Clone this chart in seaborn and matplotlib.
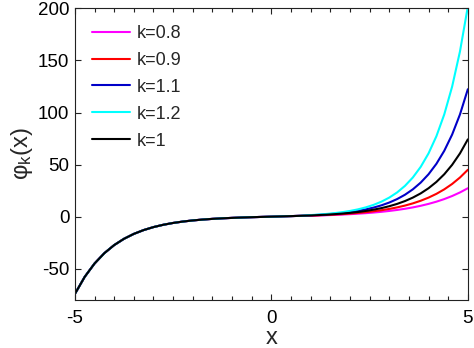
import matplotlib
matplotlib.use("Agg")
import matplotlib.pyplot as plt
import seaborn as sns
import pandas as pd
import numpy as np
from matplotlib.ticker import MultipleLocator

sns.set_style("ticks")
plt.rcParams['font.family'] = ['Liberation Sans', 'DejaVu Sans']
plt.rcParams['mathtext.default'] = 'regular'
plt.rcParams['axes.unicode_minus'] = False

# shared part of all curves (x from -5 to 0.75, step 0.25)
x_left = [-5.0, -4.75, -4.5, -4.25, -4.0, -3.75, -3.5, -3.25, -3.0, -2.75, -2.5, -2.25,
          -2.0, -1.75, -1.5, -1.25, -1.0, -0.75, -0.5, -0.25, 0.0, 0.25, 0.5, 0.75]
phi_left = [-74.20, -57.79, -45.00, -35.05, -27.29, -21.25, -16.54, -12.88, -10.02, -7.79,
            -6.05, -4.69, -3.63, -2.79, -2.13, -1.60, -1.18, -0.82, -0.52, -0.25, 0.0,
            0.25, 0.52, 0.82]

# right part (x from 1 to 5, step 0.2)
x_right = [1.0, 1.2, 1.4, 1.6, 1.8, 2.0, 2.2, 2.4, 2.6, 2.8, 3.0, 3.2, 3.4, 3.6, 3.8,
           4.0, 4.2, 4.4, 4.6, 4.8, 5.0]
phi_k08 = [0.89, 1.11, 1.37, 1.66, 1.99, 2.38, 2.82, 3.34, 3.94, 4.64, 5.47, 6.43, 7.56,
           8.88, 10.43, 12.25, 14.38, 16.88, 19.81, 23.25, 27.29]
phi_k09 = [1.03, 1.30, 1.62, 1.99, 2.43, 2.94, 3.55, 4.28, 5.14, 6.17, 7.41, 8.88, 10.64,
           12.75, 15.27, 18.29, 21.90, 26.22, 31.39, 37.59, 45.00]
phi_k10 = [1.18, 1.51, 1.90, 2.38, 2.94, 3.63, 4.46, 5.47, 6.70, 8.19, 10.02, 12.25,
           14.97, 18.29, 22.34, 27.29, 33.34, 40.72, 49.74, 60.75, 74.20]
phi_k11 = [1.34, 1.74, 2.23, 2.82, 3.55, 4.46, 5.58, 6.97, 8.70, 10.86, 13.54, 16.88,
           21.04, 26.22, 32.68, 40.72, 50.74, 63.23, 78.79, 98.18, 122.34]
phi_k12 = [1.51, 1.99, 2.59, 3.34, 4.28, 5.47, 6.97, 8.88, 11.30, 14.38, 18.29, 23.25,
           29.56, 37.59, 47.79, 60.75, 77.23, 98.18, 124.82, 158.67, 201.71]

labels = ["k=0.8", "k=0.9", "k=1.1", "k=1.2", "k=1"]
colors = ["#ff00ff", "#ff0000", "#0000c8", "#00ffff", "#000000"]
series = [phi_k08, phi_k09, phi_k11, phi_k12, phi_k10]

fig = plt.figure(figsize=(4.74, 3.48), dpi=100)
ax = fig.add_axes([0.158, 0.138, 0.829, 0.838])

for lab, col, right in zip(labels, colors, series):
    df = pd.DataFrame({"x": x_left + x_right, "y": phi_left + right})
    sns.lineplot(data=df, x="x", y="y", ax=ax, color=col, lw=1.5, label=lab,
                 sort=False, estimator=None)

ax.set_xlim(-5, 5)
ax.set_ylim(-80, 200)
ax.set_xticks([-5, 0, 5])
ax.xaxis.set_minor_locator(MultipleLocator(0.5))
ax.set_yticks([-50, 0, 50, 100, 150, 200])
ax.tick_params(which='both', direction='in', top=True, right=True, labelsize=13.5,
               width=0.8, colors='#222222', labelcolor='black')
ax.tick_params(axis='x', which='major', length=4, pad=7)
ax.tick_params(axis='y', which='major', length=4, pad=4)
ax.tick_params(which='minor', length=3)
for s in ax.spines.values():
    s.set_linewidth(0.8)
    s.set_color('#222222')

ax.set_xlabel("x", fontsize=17, labelpad=0)
ax.set_ylabel("φ$_k$(x)", fontsize=17, labelpad=2)

leg = ax.legend(loc='upper left', frameon=False, fontsize=13, handlelength=2.1,
                handletextpad=0.4, labelspacing=0.55, borderaxespad=0.0,
                bbox_to_anchor=(0.025, 0.968))

fig.savefig("out.png", dpi=100)
